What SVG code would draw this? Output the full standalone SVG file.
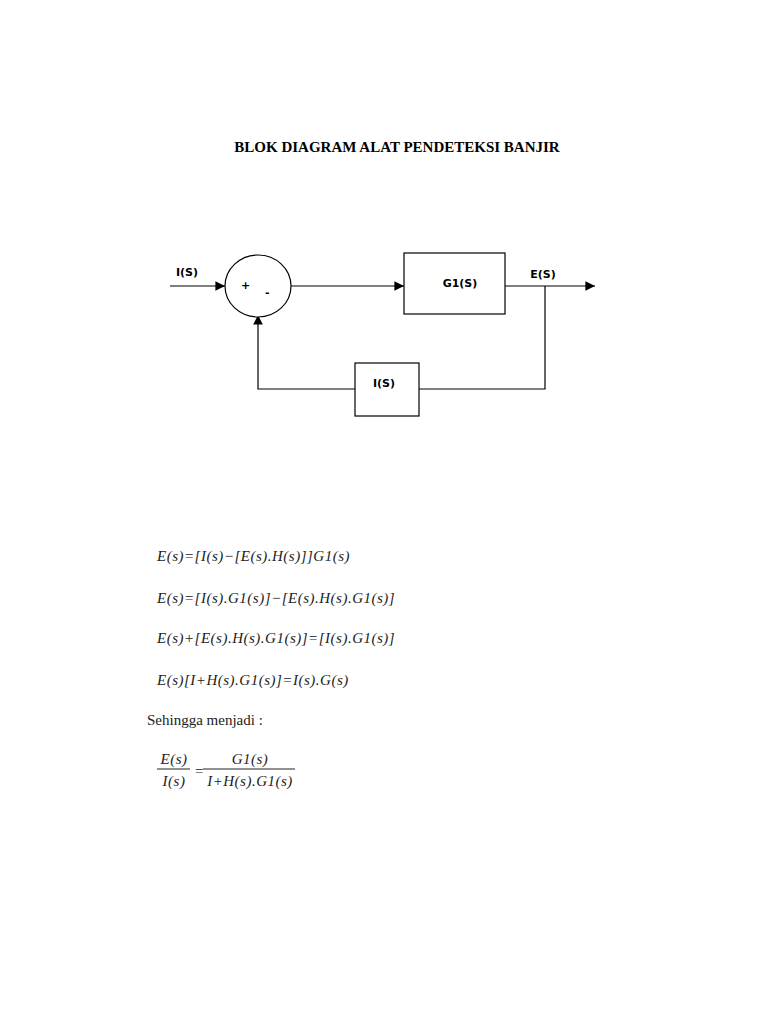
<svg xmlns="http://www.w3.org/2000/svg" width="768" height="1024" viewBox="0 0 768 1024">
<defs>
<style>
.lbl{font-family:"DejaVu Sans",sans-serif;font-size:11px;font-weight:bold;fill:#000}
.eq{font-family:"Liberation Serif",serif;font-style:italic;font-size:15px;fill:#222;letter-spacing:0.5px}
.ln{stroke:#000;stroke-width:1.2;fill:none}
.bx{stroke:#000;stroke-width:1.2;fill:#fff}
</style>
<marker id="ar" viewBox="0 0 10 10" refX="10" refY="5" markerWidth="8" markerHeight="8" orient="auto"><path d="M0,0 L10,5 L0,10 z" fill="#000"/></marker>
</defs>
<rect width="768" height="1024" fill="#fff"/>
<text x="397" y="152" text-anchor="middle" font-family="Liberation Serif,serif" font-weight="bold" font-size="15" fill="#000">BLOK DIAGRAM ALAT PENDETEKSI BANJIR</text>
<g id="connectors">
<line class="ln" x1="170" y1="286" x2="225" y2="286" marker-end="url(#ar)"/>
<line class="ln" x1="291" y1="286" x2="404" y2="286" marker-end="url(#ar)"/>
<line class="ln" x1="505" y1="286" x2="595" y2="286" marker-end="url(#ar)"/>
<polyline class="ln" points="545,286 545,389 419,389"/>
<polyline class="ln" points="355,389 258,389 258,315" marker-end="url(#ar)"/>
</g>
<g id="sum"><ellipse class="bx" cx="258" cy="286" rx="33" ry="31"/><text class="lbl" x="241" y="289">+</text><text class="lbl" x="265" y="296">-</text></g>
<g id="g1"><rect class="bx" x="404" y="253" width="101" height="61"/><text class="lbl" x="460" y="287" text-anchor="middle">G1(S)</text></g>
<g id="h"><rect class="bx" x="355" y="363" width="64" height="53"/><text class="lbl" x="384" y="387" text-anchor="middle">I(S)</text></g>
<text class="lbl" x="187" y="276" text-anchor="middle">I(S)</text>
<text class="lbl" x="543" y="278" text-anchor="middle">E(S)</text>
<text class="eq" x="157" y="561">E(s)=[I(s)−[E(s).H(s)]]G1(s)</text>
<text class="eq" x="157" y="603">E(s)=[I(s).G1(s)]−[E(s).H(s).G1(s)]</text>
<text class="eq" x="157" y="643">E(s)+[E(s).H(s).G1(s)]=[I(s).G1(s)]</text>
<text class="eq" x="157" y="685">E(s)[I+H(s).G1(s)]=I(s).G(s)</text>
<text x="147" y="725" font-family="Liberation Serif,serif" font-size="15" fill="#222">Sehingga menjadi :</text>
<text class="eq" x="174" y="764" text-anchor="middle">E(s)</text>
<line x1="157" y1="769" x2="190" y2="769" stroke="#222" stroke-width="1"/>
<text class="eq" x="174" y="786" text-anchor="middle">I(s)</text>
<text class="eq" x="194" y="776">=</text>
<text class="eq" x="250" y="764" text-anchor="middle">G1(s)</text>
<line x1="203" y1="769" x2="295" y2="769" stroke="#222" stroke-width="1"/>
<text class="eq" x="250" y="786" text-anchor="middle">I+H(s).G1(s)</text>
</svg>
